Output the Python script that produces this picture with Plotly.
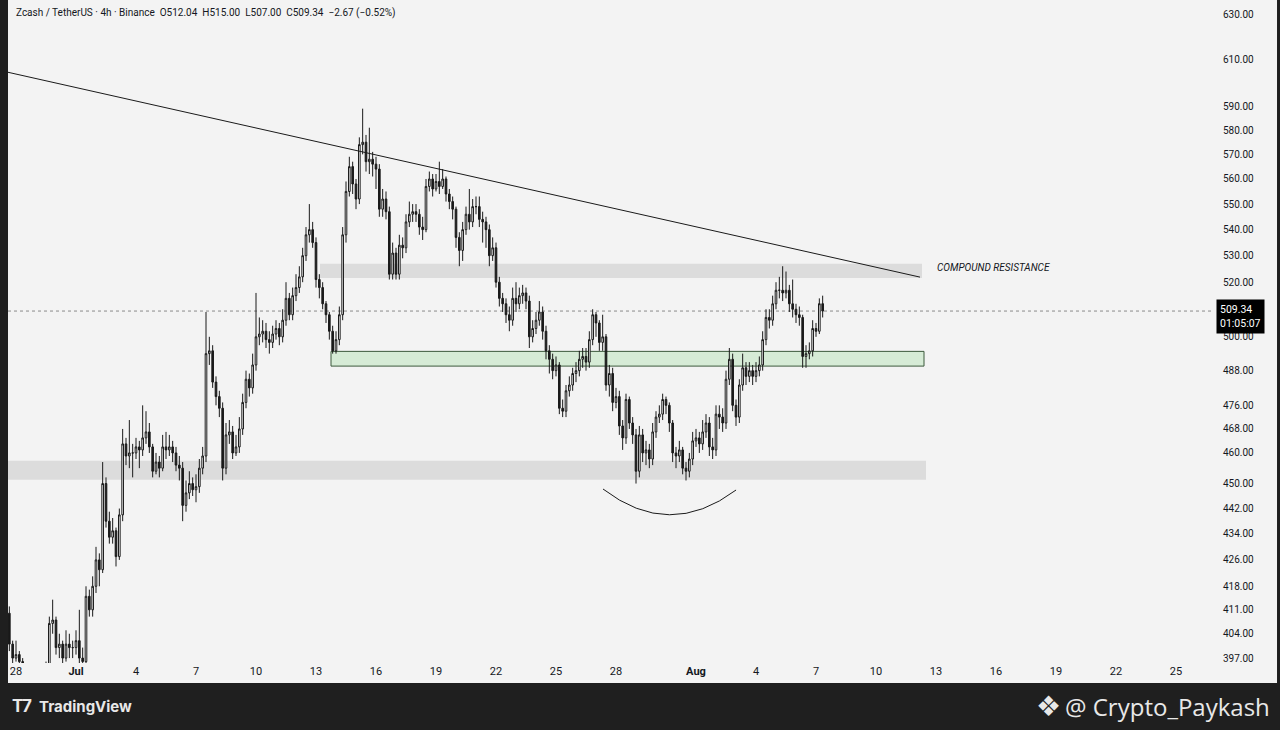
import math
import pandas as pd
import plotly.graph_objects as go

# ZEC/USDT 4h candles (open = previous close)
first_open = 410.0
closes = [
    401, 397, 398, 396, 393, 390, 388, 391, 389, 392,
    390, 393, 407, 408, 400, 401, 397, 401, 400, 400,
    402, 397, 396, 415, 411, 418, 426, 423, 450, 438,
    433, 435, 427, 440, 463, 459, 460, 460, 462, 461,
    465, 467, 462, 454, 457, 455, 462, 461, 462, 460,
    456, 455, 443, 447, 450, 448, 449, 455, 459, 494,
    495, 484, 479, 475, 455, 466, 467, 460, 462, 468,
    477, 485, 482, 490, 500, 501, 502, 499, 498, 501,
    503, 500, 506, 514, 508, 515, 518, 522, 530, 538,
    540, 535, 521, 518, 512, 508, 502, 495, 499, 508,
    538, 555, 565, 558, 552, 574, 575, 567, 568, 566,
    564, 548, 552, 547, 523, 531, 523, 534, 533, 543,
    546, 547, 546, 541, 540, 557, 560, 556, 559, 557,
    560, 554, 551, 548, 537, 532, 540, 546, 543, 549,
    549, 544, 543, 540, 530, 533, 520, 514, 512, 508,
    506, 514, 512, 515, 516, 513, 500, 503, 506, 509,
    502, 495, 492, 488, 490, 475, 474, 481, 483, 487,
    488, 492, 493, 491, 499, 508, 505, 498, 500, 483,
    487, 477, 479, 469, 465, 478, 470, 466, 454, 466,
    460, 461, 458, 467, 472, 473, 478, 476, 470, 460,
    459, 461, 455, 454, 458, 464, 465, 463, 467, 470,
    462, 461, 473, 472, 470, 485, 492, 476, 472, 483,
    489, 486, 488, 486, 488, 490, 499, 507, 506, 512,
    517, 517, 516, 517, 512, 510, 508, 507, 493, 494,
    495, 503, 502, 512.04, 509.34,
]
highs = [
    412, 402, 402, 399, 397, 394, 392, 394, 393, 395,
    394, 396, 409, 414, 409, 404, 402, 405, 404, 402,
    405, 411, 400, 418, 417, 421, 430, 428, 457, 452,
    441, 439, 436, 442, 468, 465, 471, 463, 465, 464,
    476, 474, 470, 463, 460, 459, 466, 467, 466, 464,
    462, 459, 457, 451, 454, 452, 453, 458, 462, 509,
    500, 497, 486, 481, 477, 470, 471, 469, 466, 472,
    480, 488, 487, 494, 516, 507, 506, 505, 502, 504,
    506, 505, 510, 520, 516, 518, 523, 526, 533, 541,
    550, 543, 537, 523, 520, 513, 509, 504, 502, 511,
    541, 559, 569, 567, 560, 577, 589, 578, 581, 571,
    569, 566, 556, 555, 549, 535, 533, 538, 537, 546,
    551, 550, 550, 548, 545, 560, 563, 562, 562, 567,
    564, 561, 556, 553, 549, 539, 543, 549, 556, 552,
    553, 553, 547, 545, 542, 537, 535, 522, 516, 514,
    511, 518, 520, 518, 519, 518, 515, 506, 509, 513,
    511, 504, 497, 494, 493, 491, 478, 483, 486, 489,
    491, 495, 496, 496, 502, 510, 509, 506, 508, 501,
    490, 489, 482, 481, 471, 480, 479, 472, 468, 469,
    468, 464, 463, 470, 474, 476, 480, 479, 477, 471,
    462, 464, 462, 457, 460, 467, 468, 467, 471, 473,
    472, 465, 476, 476, 475, 488, 496, 494, 478, 485,
    494, 491, 491, 490, 491, 493, 502, 510, 510, 515,
    520, 522, 526, 524, 519, 521, 512, 511, 508, 497,
    498, 506, 505, 514, 515,
]
lows = [
    399, 395, 396, 394, 391, 388, 385, 386, 387, 388,
    388, 389, 392, 404, 398, 397, 395, 396, 397, 397,
    398, 395, 394, 395, 409, 409, 416, 418, 422, 436,
    431, 431, 424, 426, 438, 456, 455, 452, 458, 455,
    459, 463, 460, 452, 453, 452, 454, 458, 459, 457,
    454, 451, 438, 441, 445, 446, 444, 447, 453, 457,
    490, 482, 476, 472, 451, 453, 463, 458, 459, 460,
    466, 475, 479, 480, 488, 497, 498, 496, 494, 496,
    499, 497, 498, 504, 506, 506, 513, 516, 520, 528,
    535, 533, 518, 514, 510, 505, 499, 494, 494, 497,
    506, 535, 553, 554, 548, 550, 570, 563, 562, 561,
    556, 545, 545, 544, 521, 521, 521, 521, 529, 531,
    541, 543, 543, 538, 536, 539, 555, 553, 555, 554,
    556, 551, 548, 544, 533, 526, 528, 538, 540, 541,
    546, 541, 535, 533, 526, 528, 518, 511, 509, 505,
    502, 504, 509, 510, 512, 510, 496, 498, 501, 504,
    499, 492, 487, 485, 486, 473, 472, 472, 479, 481,
    484, 486, 489, 488, 489, 497, 500, 495, 495, 481,
    479, 474, 475, 466, 461, 463, 468, 463, 450, 452,
    457, 456, 455, 456, 465, 470, 471, 473, 467, 457,
    455, 457, 453, 451, 452, 456, 462, 460, 461, 465,
    459, 458, 459, 468, 467, 468, 483, 474, 469, 470,
    481, 483, 484, 483, 484, 486, 488, 497, 503, 504,
    510, 514, 513, 514, 509, 507, 505, 504, 489, 489,
    492, 493, 500, 501, 507,
]
times = pd.date_range("2025-06-27 16:00", periods=len(closes), freq="4h")
opens = [first_open] + closes[:-1]

price_ticks = [630, 610, 590, 580, 570, 560, 550, 540, 530, 520, 500, 488,
               476, 468, 460, 450, 442, 434, 426, 418, 411, 404, 397]
date_ticks = ["2025-06-28", "2025-07-01", "2025-07-04", "2025-07-07", "2025-07-10",
              "2025-07-13", "2025-07-16", "2025-07-19", "2025-07-22", "2025-07-25",
              "2025-07-28", "2025-08-01", "2025-08-04", "2025-08-07", "2025-08-10",
              "2025-08-13", "2025-08-16", "2025-08-19", "2025-08-22", "2025-08-25"]
date_labels = ["28", "<b>Jul</b>", "4", "7", "10", "13", "16", "19", "22", "25",
               "28", "<b>Aug</b>", "4", "7", "10", "13", "16", "19", "22", "25"]

# drawings
trend_x = ["2025-06-27 14:24", "2025-08-12 04:48"]
trend_y = [604.6, 521.9]
gray_zones = [("2025-07-13 04:48", "2025-08-12 07:12", 521.6, 526.9),
              ("2025-06-27 14:24", "2025-08-12 12:00", 451.2, 457.4)]
green_zone = ("2025-07-13 18:00", "2025-08-12 09:36", 489.6, 494.8)

last_close = closes[-1]
header = ("Zcash / TetherUS · 4h · Binance&nbsp;&nbsp;O512.04&nbsp;&nbsp;H515.00&nbsp;&nbsp;"
          "L507.00&nbsp;&nbsp;C509.34&nbsp;&nbsp;−2.67 (−0.52%)")

ink = "#131722"
panel = "#f3f3f3"
frame = "#1f1f1f"
light = "#e8e8e8"

fig = go.Figure()
fig.add_trace(go.Candlestick(
    x=times, open=opens, high=highs, low=lows, close=closes,
    increasing=dict(line=dict(color="#1a1a1a", width=1), fillcolor="#ffffff"),
    decreasing=dict(line=dict(color="#1a1a1a", width=1), fillcolor="#1a1a1a"),
    hoverinfo="skip",
))
fig.add_trace(go.Scatter(x=trend_x, y=trend_y, mode="lines",
                         line=dict(color="#1a1a1a", width=1), hoverinfo="skip"))

shapes = [dict(type="rect", xref="paper", yref="paper", x0=0, x1=1.054,
               y0=-0.0302, y1=1.02, fillcolor=panel, line_width=0, layer="below")]
for x0, x1, lo, hi in gray_zones:
    shapes.append(dict(type="rect", xref="x", yref="y", x0=x0, x1=x1, y0=lo, y1=hi,
                       fillcolor="#dcdcdc", line_width=0, layer="below"))
shapes.append(dict(type="rect", xref="x", yref="y", x0=green_zone[0], x1=green_zone[1],
                   y0=green_zone[2], y1=green_zone[3], fillcolor="#d6ebd6",
                   line=dict(color="#3d5a3d", width=1), layer="below"))
shapes.append(dict(type="line", xref="paper", yref="y", x0=0, x1=1,
                   y0=last_close, y1=last_close,
                   line=dict(color="#8a8a8a", width=1, dash="dot"), layer="below"))
shapes.append(dict(type="path", xref="paper", yref="paper",
                   path="M 0.4942,0.2624 Q 0.5494,0.1855 0.6047,0.2609",
                   line=dict(color="#1a1a1a", width=1)))

annotations = [
    dict(text=header, xref="paper", yref="paper", x=0.005, y=0.980,
         xanchor="left", yanchor="middle", showarrow=False,
         font=dict(family="Roboto", size=10, color=ink)),
    dict(text="<i>COMPOUND RESISTANCE</i>", xref="paper", yref="paper", x=0.770,
         y=0.5958, xanchor="left", yanchor="middle", showarrow=False,
         font=dict(family="Roboto", size=10, color=ink)),
    dict(text="%.2f<br>01:05:07" % last_close, xref="paper", yref="y", x=1.003,
         y=math.log10(last_close), yshift=-5, xanchor="left", yanchor="middle",
         showarrow=False, bgcolor="#000000", borderpad=3, align="left",
         font=dict(family="Roboto", size=10.5, color="#ffffff")),
    # footer branding
    dict(text="<b>T7</b>", xref="paper", yref="paper", x=0.0017,
         y=-0.0649, xanchor="left", yanchor="middle", showarrow=False,
         font=dict(family="Inter", size=17, color=light)),
    dict(text="<b>TradingView</b>", xref="paper", yref="paper", x=0.0245,
         y=-0.0649, xanchor="left", yanchor="middle", showarrow=False,
         font=dict(family="Inter", size=15, color=light)),
    dict(text="❖", xref="paper", yref="paper", x=0.852,
         y=-0.0649, xanchor="left", yanchor="middle", showarrow=False,
         font=dict(family="DejaVu Sans", size=28, color=light)),
    dict(text="@ Crypto_Paykash", xref="paper", yref="paper", x=1.0498,
         y=-0.0649, xanchor="right", yanchor="middle", showarrow=False,
         font=dict(family="Open Sans", size=24, color=light)),
]

fig.update_layout(
    width=1280, height=730,
    margin=dict(l=8, r=68, t=0, b=67),
    paper_bgcolor=frame, plot_bgcolor=panel,
    showlegend=False, hovermode=False,
    shapes=shapes, annotations=annotations,
    xaxis=dict(type="date", range=["2025-06-27 14:24", "2025-08-26 19:12"],
               rangeslider=dict(visible=False), showgrid=False, zeroline=False,
               tickvals=date_ticks, ticktext=date_labels, ticks="",
               tickfont=dict(family="Roboto", size=11, color=ink)),
    yaxis=dict(type="log", side="right",
               range=[math.log10(395.6), math.log10(636.8)],
               showgrid=False, zeroline=False, ticks="", ticklabelstandoff=10,
               tickvals=price_ticks, ticktext=["%.2f" % v for v in price_ticks],
               tickfont=dict(family="Roboto", size=10, color=ink)),
)

# drop the default page margin so the figure sits flush in the window
fig.write_html("out.html", config={"displayModeBar": False},
               post_script="document.body.style.margin='0';"
                           "document.body.style.background='%s';" % frame)
